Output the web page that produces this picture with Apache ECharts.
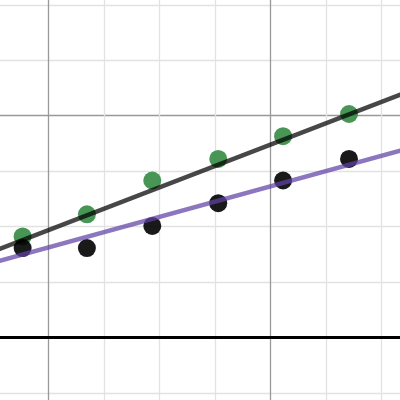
<!DOCTYPE html>
<html>
<head>
<meta charset="utf-8">
<style>
html,body{margin:0;padding:0;background:#fff;overflow:hidden;width:400px;height:400px}
#wrap{position:relative;width:400px;height:400px;overflow:hidden}
#c{position:absolute;left:-172.6px;top:-105.7px;width:664.8px;height:664.8px}
</style>
<script src="https://cdn.jsdelivr.net/npm/echarts@6/dist/echarts.min.js"></script>
</head>
<body>
<div id="wrap"><div id="c"></div></div>
<script>
const pointX = [-0.47, 0.69, 1.87, 3.06, 4.23, 5.42];
const greenY = [1.82, 2.22, 2.83, 3.22, 3.63, 4.03];
const blackY = [1.61, 1.61, 2.01, 2.42, 2.83, 3.22];
const darkLine = [0.385, 1.937];   // slope, intercept
const purpleLine = [0.275, 1.624]; // slope, intercept
const xRange = [-4, 8];
const yRange = [-4, 8];

function pts(xs, ys) { return xs.map((x, i) => [x, ys[i]]); }
function lineEnds(p) { return xRange.map(x => [x, p[0] * x + p[1]]); }

const chart = echarts.init(document.getElementById('c'), null, {renderer: 'canvas'});
const axisCommon = {
  type: 'value', interval: 4,
  axisLabel: {show: false}, axisTick: {show: false},
  splitLine: {show: true, lineStyle: {color: '#999999', width: 1.3}},
  minorTick: {show: false, splitNumber: 4},
  minorSplitLine: {show: true, lineStyle: {color: '#e2e2e2', width: 1.3}}
};
chart.setOption({
  animation: false,
  backgroundColor: '#ffffff',
  grid: {left: 0, right: 0, top: 0, bottom: 0, containLabel: false},
  xAxis: Object.assign({}, axisCommon, {min: xRange[0], max: xRange[1],
    axisLine: {show: true, onZero: true, lineStyle: {color: '#000', width: 3}}}),
  yAxis: Object.assign({}, axisCommon, {min: yRange[0], max: yRange[1],
    axisLine: {show: false}}),
  series: [
    {type: 'scatter', data: pts(pointX, greenY), symbolSize: 18,
     itemStyle: {color: '#388c46', opacity: 0.92}, z: 3},
    {type: 'scatter', data: pts(pointX, blackY), symbolSize: 18,
     itemStyle: {color: '#000000', opacity: 0.9}, z: 3},
    {type: 'line', data: lineEnds(darkLine), showSymbol: false, symbol: 'none',
     lineStyle: {color: '#000000', width: 4.5, opacity: 0.72}, z: 4},
    {type: 'line', data: lineEnds(purpleLine), showSymbol: false, symbol: 'none',
     lineStyle: {color: '#6042a6', width: 4.5, opacity: 0.72}, z: 4}
  ]
});
</script>
</body>
</html>
